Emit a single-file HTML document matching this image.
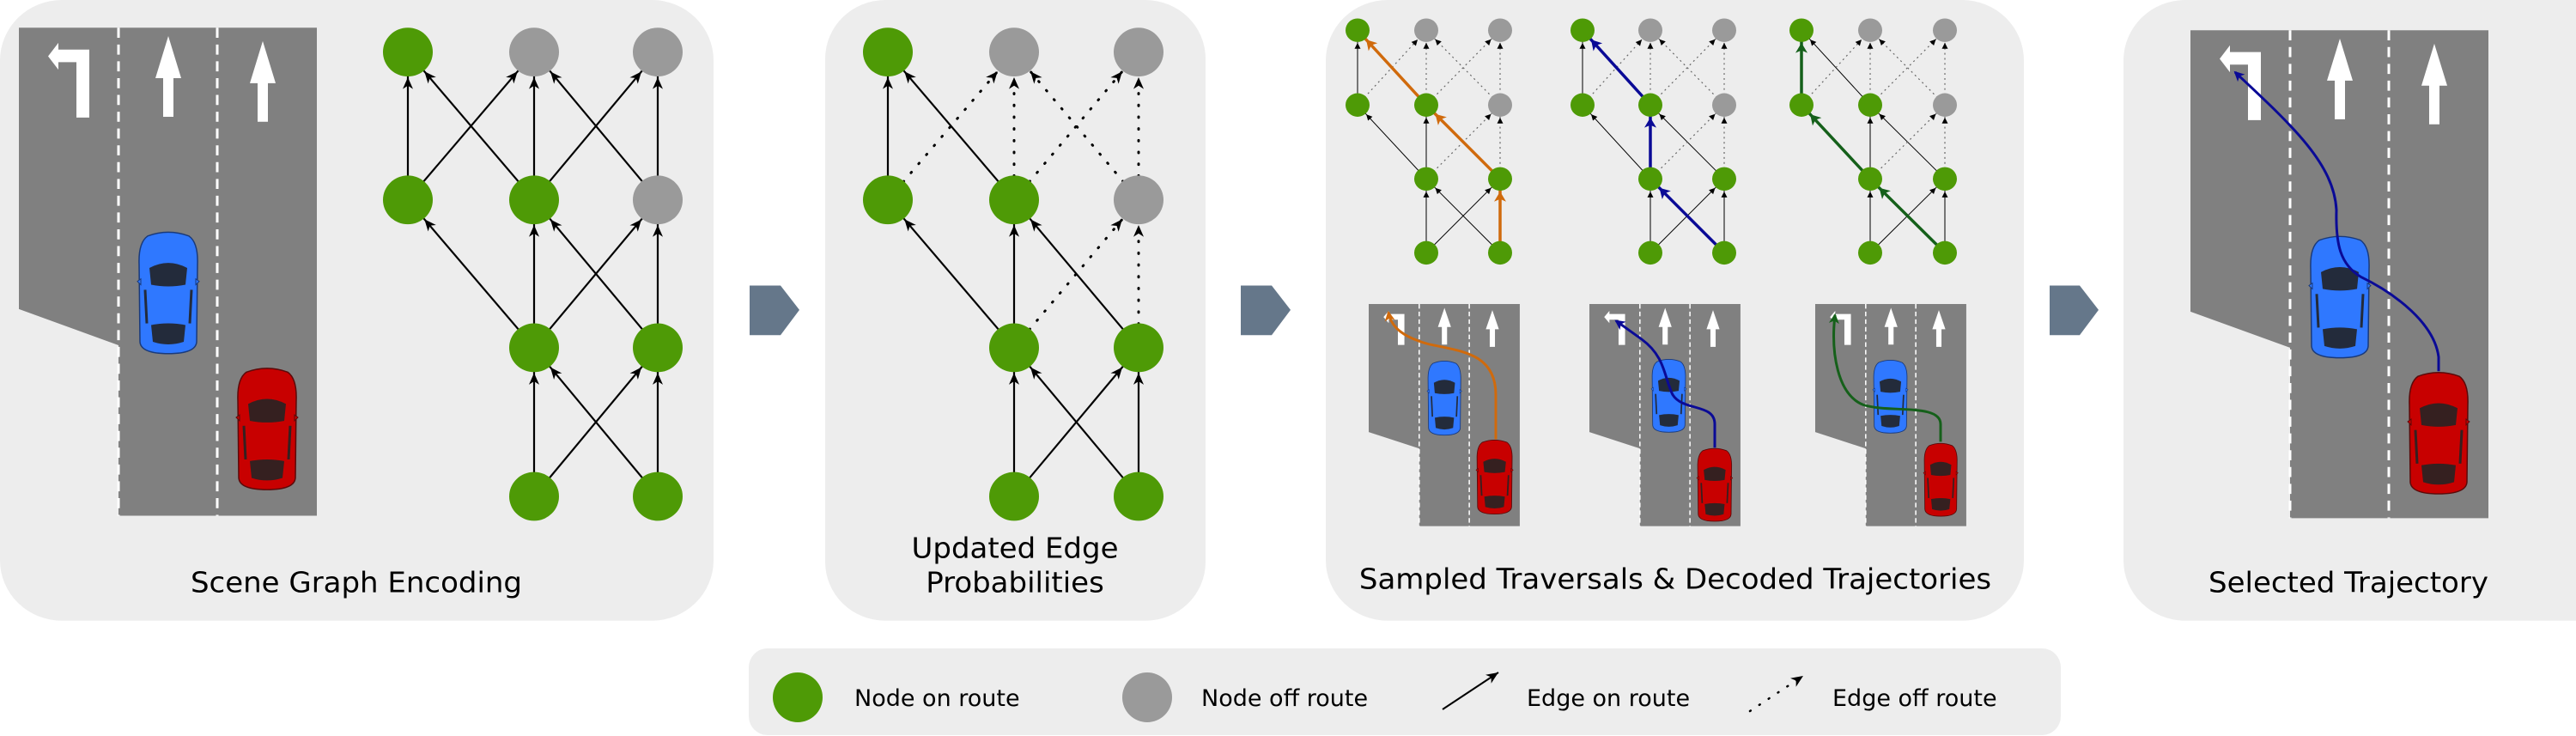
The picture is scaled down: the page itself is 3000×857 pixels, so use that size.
<!DOCTYPE html>
<html><head><meta charset="utf-8"><style>
html,body{margin:0;padding:0;background:#fff}
svg{display:block}
text{font-family:"DejaVu Sans","Liberation Sans",sans-serif;fill:#000}
</style></head><body>
<svg width="3000" height="857" viewBox="0 0 3000 857" xmlns="http://www.w3.org/2000/svg">
<defs>
<marker id="m1" markerUnits="userSpaceOnUse" orient="auto" overflow="visible" refX="44" refY="0" markerWidth="1" markerHeight="1"><path d="M0,-6 L14,0 L0,6 L4,0 Z" fill="#000"/></marker>
<marker id="m3" markerUnits="userSpaceOnUse" orient="auto" overflow="visible" refX="22" refY="0" markerWidth="1" markerHeight="1"><path d="M0,-3.5 L7,0 L0,3.5 Z" fill="#000"/></marker>
<marker id="mo" markerUnits="userSpaceOnUse" orient="auto" overflow="visible" refX="27" refY="0" markerWidth="1" markerHeight="1"><path d="M0,-7 L12,0 L0,7 L3,0 Z" fill="#d06a0c"/></marker>
<marker id="mb" markerUnits="userSpaceOnUse" orient="auto" overflow="visible" refX="27" refY="0" markerWidth="1" markerHeight="1"><path d="M0,-7 L12,0 L0,7 L3,0 Z" fill="#0a0a96"/></marker>
<marker id="mg" markerUnits="userSpaceOnUse" orient="auto" overflow="visible" refX="27" refY="0" markerWidth="1" markerHeight="1"><path d="M0,-7 L12,0 L0,7 L3,0 Z" fill="#15601a"/></marker>
<marker id="to" markerUnits="userSpaceOnUse" orient="auto" overflow="visible" refX="10" refY="0" markerWidth="1" markerHeight="1"><path d="M0,-6 L12,0 L0,6 L3,0 Z" fill="#d06a0c"/></marker>
<marker id="tb" markerUnits="userSpaceOnUse" orient="auto" overflow="visible" refX="10" refY="0" markerWidth="1" markerHeight="1"><path d="M0,-6 L12,0 L0,6 L3,0 Z" fill="#0a0a96"/></marker>
<marker id="tg" markerUnits="userSpaceOnUse" orient="auto" overflow="visible" refX="10" refY="0" markerWidth="1" markerHeight="1"><path d="M0,-6 L12,0 L0,6 L3,0 Z" fill="#15601a"/></marker>
<marker id="ml" markerUnits="userSpaceOnUse" orient="auto" overflow="visible" refX="14" refY="0" markerWidth="1" markerHeight="1"><path d="M0,-6 L14,0 L0,6 L4,0 Z" fill="#000"/></marker>

<g id="road">
<polygon points="0,0 347,0 347,581 116,581 116,378 0,335" fill="#808080"/>
<line x1="116" y1="0" x2="116" y2="581" stroke="#fff" stroke-width="3" stroke-dasharray="12 8"/>
<line x1="231" y1="0" x2="231" y2="581" stroke="#fff" stroke-width="3" stroke-dasharray="12 8"/>
<polygon points="67,107 82,107 82,26 46,26 46,18 34,34 46,50 46,41 67,41" fill="#fff"/>
<polygon points="174,10 189,60 180,60 180,106 168,106 168,60 159,60" fill="#fff"/>
<polygon points="284,16 299,66 290,66 290,112 278,112 278,66 269,66" fill="#fff"/>
</g>
<g id="carb">
<path d="M12,6 Q36,-3 60,6 Q71,14 70,40 L69,132 Q68,146 36,146 Q4,146 3,132 L2,40 Q1,14 12,6 Z" fill="#2f78ff" stroke="#1a3a7a" stroke-width="1.5"/>
<path d="M0,60 L4,57 L4,64 Z M72,60 L68,57 L68,64 Z" fill="#2f78ff" stroke="#1a3a7a"/>
<path d="M14,44 Q36,32 58,44 L56,64 Q36,68 16,64 Z" fill="#232b3b"/>
<path d="M16,112 Q36,108 56,112 L54,132 Q36,138 18,132 Z" fill="#232b3b"/>
<path d="M9,70 L11,110 M63,70 L61,110" stroke="#232b3b" stroke-width="3"/>
</g>
<g id="carr">
<path d="M12,6 Q36,-3 60,6 Q71,14 70,40 L69,132 Q68,146 36,146 Q4,146 3,132 L2,40 Q1,14 12,6 Z" fill="#c80000" stroke="#5a0a0a" stroke-width="1.5"/>
<path d="M0,60 L4,57 L4,64 Z M72,60 L68,57 L68,64 Z" fill="#c80000" stroke="#5a0a0a"/>
<path d="M14,44 Q36,32 58,44 L56,64 Q36,68 16,64 Z" fill="#352020"/>
<path d="M16,112 Q36,108 56,112 L54,132 Q36,138 18,132 Z" fill="#352020"/>
<path d="M9,70 L11,110 M63,70 L61,110" stroke="#352020" stroke-width="3"/>
</g>
</defs>

<g transform="scale(1,0.978)">
<!-- panels -->
<rect x="0" y="0" width="831" height="739" rx="72" fill="#ededed"/>
<rect x="961" y="0" width="443" height="739" rx="70" fill="#ededed"/>
<rect x="1544" y="0" width="813" height="739" rx="72" fill="#ededed"/>
<rect x="2473" y="0" width="600" height="739" rx="72" fill="#ededed"/>

<!-- chevrons -->
<polygon points="873,340 909,340 931,369 909,399 873,399" fill="#65778a"/>
<polygon points="1445,340 1481,340 1503,369 1481,399 1445,399" fill="#65778a"/>
<polygon points="2387,340 2422,340 2444,369 2422,399 2387,399" fill="#65778a"/>

<!-- Panel 1 -->
<use href="#road" transform="translate(22,33)"/>
<use href="#carb" transform="translate(160,275)"/>
<use href="#carr" transform="translate(275,437)"/>
<g stroke="#000" stroke-width="2.2" marker-end="url(#m1)">
<line x1="475" y1="238" x2="475" y2="62"/><line x1="475" y1="238" x2="622" y2="62"/>
<line x1="622" y1="238" x2="475" y2="62"/><line x1="622" y1="238" x2="622" y2="62"/>
<line x1="622" y1="238" x2="766" y2="62"/><line x1="766" y1="238" x2="622" y2="62"/>
<line x1="766" y1="238" x2="766" y2="62"/>
<line x1="622" y1="414" x2="475" y2="238"/><line x1="622" y1="414" x2="622" y2="238"/>
<line x1="622" y1="414" x2="766" y2="238"/><line x1="766" y1="414" x2="622" y2="238"/>
<line x1="766" y1="414" x2="766" y2="238"/>
<line x1="622" y1="591" x2="622" y2="414"/><line x1="622" y1="591" x2="766" y2="414"/>
<line x1="766" y1="591" x2="622" y2="414"/><line x1="766" y1="591" x2="766" y2="414"/>
</g>
<g fill="#4e9a06"><circle cx="475" cy="62" r="29"/><circle cx="475" cy="238" r="29"/><circle cx="622" cy="238" r="29"/>
<circle cx="622" cy="414" r="29"/><circle cx="766" cy="414" r="29"/><circle cx="622" cy="591" r="29"/><circle cx="766" cy="591" r="29"/></g>
<g fill="#9a9a9a"><circle cx="622" cy="62" r="29"/><circle cx="766" cy="62" r="29"/><circle cx="766" cy="238" r="29"/></g>
<text x="415" y="705" font-size="34" text-anchor="middle">Scene Graph Encoding</text>

<!-- Panel 2 -->
<g stroke="#000" stroke-width="2.2" marker-end="url(#m1)">
<line x1="1034" y1="238" x2="1034" y2="62"/><line x1="1181" y1="238" x2="1034" y2="62"/>
<line x1="1181" y1="414" x2="1034" y2="238"/><line x1="1181" y1="414" x2="1181" y2="238"/>
<line x1="1326" y1="414" x2="1181" y2="238"/>
<line x1="1181" y1="591" x2="1181" y2="414"/><line x1="1181" y1="591" x2="1326" y2="414"/>
<line x1="1326" y1="591" x2="1181" y2="414"/><line x1="1326" y1="591" x2="1326" y2="414"/>
</g>
<g stroke="#000" stroke-width="3" stroke-dasharray="1 13" stroke-linecap="round" marker-end="url(#m1)">
<line x1="1034" y1="238" x2="1181" y2="62"/><line x1="1181" y1="238" x2="1181" y2="62"/>
<line x1="1181" y1="238" x2="1326" y2="62"/><line x1="1326" y1="238" x2="1181" y2="62"/>
<line x1="1326" y1="238" x2="1326" y2="62"/><line x1="1181" y1="414" x2="1326" y2="238"/>
<line x1="1326" y1="414" x2="1326" y2="238"/>
</g>
<g fill="#4e9a06"><circle cx="1034" cy="62" r="29"/><circle cx="1034" cy="238" r="29"/><circle cx="1181" cy="238" r="29"/>
<circle cx="1181" cy="414" r="29"/><circle cx="1326" cy="414" r="29"/><circle cx="1181" cy="591" r="29"/><circle cx="1326" cy="591" r="29"/></g>
<g fill="#9a9a9a"><circle cx="1181" cy="62" r="29"/><circle cx="1326" cy="62" r="29"/><circle cx="1326" cy="238" r="29"/></g>
<text x="1182" y="664" font-size="34" text-anchor="middle">Updated Edge</text>
<text x="1182" y="705" font-size="34" text-anchor="middle">Probabilities</text>

<!-- Panel 3 graphs -->
<g stroke="#000" stroke-width="1" marker-end="url(#m3)">
<line x1="1581" y1="125" x2="1581" y2="36"/><line x1="1661" y1="213" x2="1581" y2="125"/>
<line x1="1661" y1="213" x2="1661" y2="125"/><line x1="1661" y1="301" x2="1661" y2="213"/>
<line x1="1661" y1="301" x2="1747" y2="213"/><line x1="1747" y1="301" x2="1661" y2="213"/>
<line x1="1843" y1="125" x2="1843" y2="36"/><line x1="1922" y1="213" x2="1843" y2="125"/>
<line x1="2008" y1="213" x2="1922" y2="125"/><line x1="1922" y1="301" x2="1922" y2="213"/>
<line x1="1922" y1="301" x2="2008" y2="213"/><line x1="2008" y1="301" x2="2008" y2="213"/>
<line x1="2178" y1="125" x2="2098" y2="36"/><line x1="2178" y1="213" x2="2178" y2="125"/>
<line x1="2265" y1="213" x2="2178" y2="125"/><line x1="2178" y1="301" x2="2178" y2="213"/>
<line x1="2178" y1="301" x2="2265" y2="213"/><line x1="2265" y1="301" x2="2265" y2="213"/>
</g>
<g stroke="#666" stroke-width="1.2" stroke-dasharray="2 4" marker-end="url(#m3)">
<line x1="1581" y1="125" x2="1661" y2="36"/><line x1="1661" y1="125" x2="1661" y2="36"/>
<line x1="1661" y1="125" x2="1747" y2="36"/><line x1="1747" y1="125" x2="1661" y2="36"/>
<line x1="1747" y1="125" x2="1747" y2="36"/><line x1="1661" y1="213" x2="1747" y2="125"/>
<line x1="1747" y1="213" x2="1747" y2="125"/>
<line x1="1843" y1="125" x2="1922" y2="36"/><line x1="1922" y1="125" x2="1922" y2="36"/>
<line x1="1922" y1="125" x2="2008" y2="36"/><line x1="2008" y1="125" x2="1922" y2="36"/>
<line x1="2008" y1="125" x2="2008" y2="36"/><line x1="1922" y1="213" x2="2008" y2="125"/>
<line x1="2008" y1="213" x2="2008" y2="125"/>
<line x1="2098" y1="125" x2="2178" y2="36"/><line x1="2178" y1="125" x2="2178" y2="36"/>
<line x1="2178" y1="125" x2="2265" y2="36"/><line x1="2265" y1="125" x2="2178" y2="36"/>
<line x1="2265" y1="125" x2="2265" y2="36"/><line x1="2178" y1="213" x2="2265" y2="125"/>
<line x1="2265" y1="213" x2="2265" y2="125"/>
</g>
<g stroke="#d06a0c" stroke-width="3.5" marker-end="url(#mo)">
<line x1="1747" y1="301" x2="1747" y2="213"/><line x1="1747" y1="213" x2="1661" y2="125"/><line x1="1661" y1="125" x2="1581" y2="36"/>
</g>
<g stroke="#0a0a96" stroke-width="3.5" marker-end="url(#mb)">
<line x1="2008" y1="301" x2="1922" y2="213"/><line x1="1922" y1="213" x2="1922" y2="125"/><line x1="1922" y1="125" x2="1843" y2="36"/>
</g>
<g stroke="#15601a" stroke-width="3.5" marker-end="url(#mg)">
<line x1="2265" y1="301" x2="2178" y2="213"/><line x1="2178" y1="213" x2="2098" y2="125"/><line x1="2098" y1="125" x2="2098" y2="36"/>
</g>
<g fill="#4e9a06">
<circle cx="1581" cy="36" r="14"/><circle cx="1581" cy="125" r="14"/><circle cx="1661" cy="125" r="14"/><circle cx="1661" cy="213" r="14"/><circle cx="1747" cy="213" r="14"/><circle cx="1661" cy="301" r="14"/><circle cx="1747" cy="301" r="14"/>
<circle cx="1843" cy="36" r="14"/><circle cx="1843" cy="125" r="14"/><circle cx="1922" cy="125" r="14"/><circle cx="1922" cy="213" r="14"/><circle cx="2008" cy="213" r="14"/><circle cx="1922" cy="301" r="14"/><circle cx="2008" cy="301" r="14"/>
<circle cx="2098" cy="36" r="14"/><circle cx="2098" cy="125" r="14"/><circle cx="2178" cy="125" r="14"/><circle cx="2178" cy="213" r="14"/><circle cx="2265" cy="213" r="14"/><circle cx="2178" cy="301" r="14"/><circle cx="2265" cy="301" r="14"/>
</g>
<g fill="#9a9a9a">
<circle cx="1661" cy="36" r="14"/><circle cx="1747" cy="36" r="14"/><circle cx="1747" cy="125" r="14"/>
<circle cx="1922" cy="36" r="14"/><circle cx="2008" cy="36" r="14"/><circle cx="2008" cy="125" r="14"/>
<circle cx="2178" cy="36" r="14"/><circle cx="2265" cy="36" r="14"/><circle cx="2265" cy="125" r="14"/>
</g>

<!-- Panel 3 roads -->
<use href="#road" transform="translate(1594,362) scale(0.507,0.455)"/>
<use href="#road" transform="translate(1851,362) scale(0.507,0.455)"/>
<use href="#road" transform="translate(2114,362) scale(0.507,0.455)"/>
<use href="#carb" transform="translate(1662,429) scale(0.56,0.61)"/>
<use href="#carr" transform="translate(1719,523) scale(0.6,0.61)"/>
<use href="#carb" transform="translate(1923,427) scale(0.57,0.6)"/>
<use href="#carr" transform="translate(1976,533) scale(0.58,0.6)"/>
<use href="#carb" transform="translate(2181,428) scale(0.57,0.6)"/>
<use href="#carr" transform="translate(2240,527) scale(0.56,0.6)"/>
<path d="M1742,523 L1742,470 C1742,420 1700,418 1665,410 C1635,402 1620,390 1617,372" fill="none" stroke="#d06a0c" stroke-width="3" marker-end="url(#to)"/>
<path d="M1997,533 L1997,505 C1997,480 1960,490 1948,470 C1938,450 1940,425 1912,404 L1882,382" fill="none" stroke="#0a0a96" stroke-width="3" marker-end="url(#tb)"/>
<path d="M2260,526 L2260,505 C2260,480 2200,492 2170,482 C2140,470 2132,420 2137,375" fill="none" stroke="#15601a" stroke-width="3" marker-end="url(#tg)"/>
<text x="1951" y="701" font-size="34" text-anchor="middle">Sampled Traversals &amp; Decoded Trajectories</text>

<!-- Panel 4 -->
<use href="#road" transform="translate(2551,36)"/>
<use href="#carb" transform="translate(2689,280)"/>
<use href="#carr" transform="translate(2804,442)"/>
<path d="M2840,442 L2840,425 C2835,385 2790,350 2750,330 C2725,315 2720,290 2721,250 C2718,195 2670,150 2603,86" fill="none" stroke="#0a0a96" stroke-width="3" marker-end="url(#tb)"/>
<text x="2735" y="705" font-size="34" text-anchor="middle">Selected Trajectory</text>
</g>

<!-- Legend -->
<rect x="872" y="755" width="1528" height="101" rx="22" fill="#ededed"/>
<circle cx="929" cy="812" r="29" fill="#4e9a06"/>
<text x="995" y="822" font-size="27">Node on route</text>
<circle cx="1336" cy="812" r="29" fill="#9a9a9a"/>
<text x="1399" y="822" font-size="27">Node off route</text>
<line x1="1680" y1="826" x2="1745" y2="783" stroke="#000" stroke-width="2" marker-end="url(#ml)"/>
<text x="1778" y="822" font-size="27">Edge on route</text>
<line x1="2038" y1="828" x2="2100" y2="787" stroke="#000" stroke-width="2.5" stroke-dasharray="1 12" stroke-linecap="round" marker-end="url(#ml)"/>
<text x="2134" y="822" font-size="27">Edge off route</text>
</svg>
</body></html>
